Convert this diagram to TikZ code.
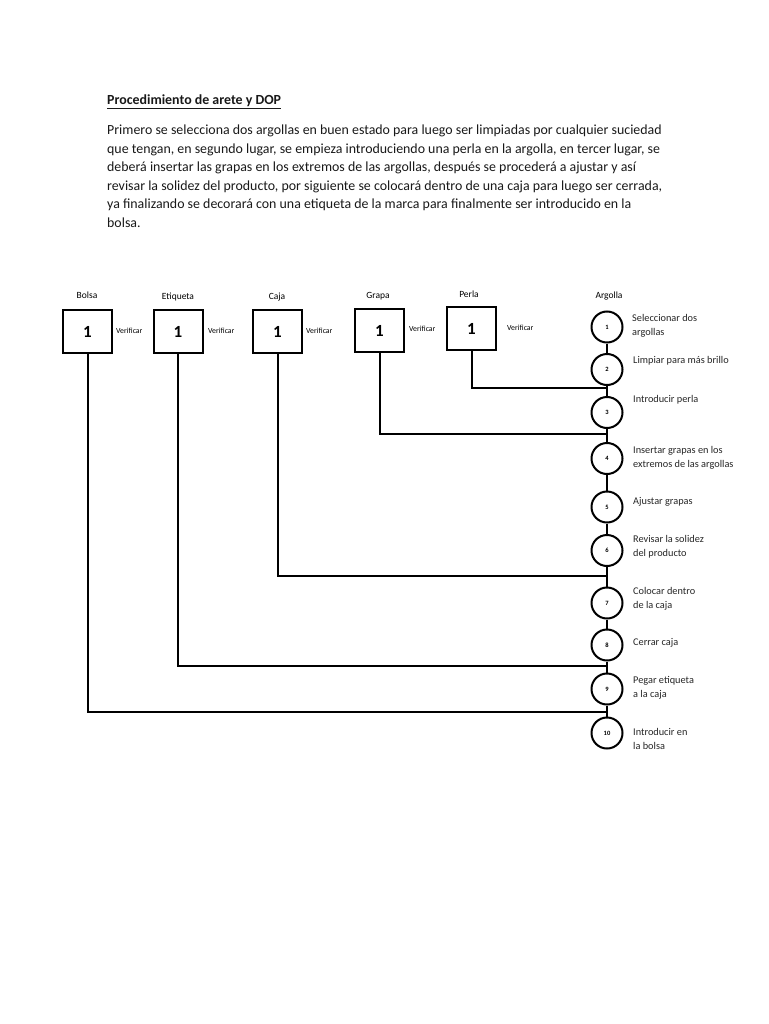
\documentclass[tikz,border=0pt]{standalone}
\usepackage{fontspec}
\setmainfont{Carlito}
\begin{document}
\begin{tikzpicture}[x=1pt,y=-1pt,
  body/.style={anchor=base west,inner sep=0,font=\fontsize{13.9}{18}\selectfont,text=black!90},
  boxlabel/.style={anchor=base,inner sep=0,font=\fontsize{9.5}{11}\selectfont},
  verif/.style={anchor=base west,inner sep=0,font=\fontsize{7.8}{9}\selectfont},
  onebox/.style={draw,line width=2pt,minimum width=49,minimum height=43,inner sep=0,font=\fontsize{17}{18}\selectfont\bfseries},
  stepc/.style={circle,draw,line width=2pt,minimum size=31,inner sep=0,font=\fontsize{6.5}{7}\selectfont\bfseries},
  steptext/.style={anchor=base west,inner sep=0,align=left,font=\fontsize{10.3}{14}\selectfont,text=black!85},
  link/.style={line width=2pt}]
\useasboundingbox (0,0) rectangle (768,1024);
\fill[white] (0,0) rectangle (768,1024);

% heading and text
\node[body,font=\fontsize{13.9}{18}\selectfont\bfseries] (title) at (107,105) {\underline{Procedimiento de arete y DOP}};
\node[body] (t1) at (107,135) {Primero se selecciona dos argollas en buen estado para luego ser limpiadas por cualquier suciedad};
\node[body] (t2) at (107,153.5) {que tengan, en segundo lugar, se empieza introduciendo una perla en la argolla, en tercer lugar, se};
\node[body] (t3) at (107,172) {deberá insertar las grapas en los extremos de las argollas, después se procederá a ajustar y así};
\node[body] (t4) at (107,190.5) {revisar la solidez del producto, por siguiente se colocará dentro de una caja para luego ser cerrada,};
\node[body] (t5) at (107,209) {ya finalizando se decorará con una etiqueta de la marca para finalmente ser introducido en la};
\node[body] (t6) at (107,228) {bolsa.};

% boxes
\node[onebox] (bolsa) at (87.5,331.5) {1};
\node[onebox] (etiq) at (178,331.5) {1};
\node[onebox] (caja) at (277.5,331.5) {1};
\node[onebox] (grapa) at (379.5,330.5) {1};
\node[onebox] (perla) at (471.5,328.5) {1};

\node[boxlabel] (lbolsa) at (87,298) {Bolsa};
\node[boxlabel] (letiq) at (178,299) {Etiqueta};
\node[boxlabel] (lcaja) at (277,299) {Caja};
\node[boxlabel] (lgrapa) at (378,298) {Grapa};
\node[boxlabel] (lperla) at (469,297) {Perla};
\node[boxlabel] (larg) at (609,298) {Argolla};

\node[verif] (v1) at (116,333) {Verificar};
\node[verif] (v2) at (208,333) {Verificar};
\node[verif] (v3) at (306,333) {Verificar};
\node[verif] (v4) at (409,331) {Verificar};
\node[verif] (v5) at (507,330) {Verificar};

% circles
\node[stepc] (c1) at (607,327) {1};
\node[stepc] (c2) at (607,369.5) {2};
\node[stepc] (c3) at (607,412.5) {3};
\node[stepc] (c4) at (607,458.5) {4};
\node[stepc] (c5) at (607,507) {5};
\node[stepc] (c6) at (607,550.5) {6};
\node[stepc] (c7) at (607,603) {7};
\node[stepc] (c8) at (607,645) {8};
\node[stepc] (c9) at (607,689) {9};
\node[stepc] (c10) at (607,733) {10};

\foreach \a/\b in {c1/c2,c2/c3,c3/c4,c4/c5,c5/c6,c6/c7,c7/c8,c8/c9,c9/c10}
  \draw[link] (\a) -- (\b);

% step texts (base = last line)
\node[steptext] (s1) at (632,335) {Seleccionar dos\\argollas};
\node[steptext] (s2) at (633,363) {Limpiar para más brillo};
\node[steptext] (s3) at (633,402) {Introducir perla};
\node[steptext] (s4) at (633,467) {Insertar grapas en los\\extremos de las argollas};
\node[steptext] (s5) at (633,504) {Ajustar grapas};
\node[steptext] (s6) at (633,556) {Revisar la solidez\\del producto};
\node[steptext] (s7) at (633,608) {Colocar dentro\\de la caja};
\node[steptext] (s8) at (633,645) {Cerrar caja};
\node[steptext] (s9) at (633,697) {Pegar etiqueta\\a la caja};
\node[steptext] (s10) at (633,749) {Introducir en\\la bolsa};

% joins on the spine
\coordinate (jp) at (607,388);
\coordinate (jg) at (607,434);
\coordinate (jc) at (607,576);
\coordinate (je) at (607,666);
\coordinate (jb) at (607,712);

\draw[link] (perla.south) |- (jp);
\draw[link] (grapa.south) |- (jg);
\draw[link] (caja.south) |- (jc);
\draw[link] (etiq.south) |- (je);
\draw[link] (bolsa.south) |- (jb);
\end{tikzpicture}
\end{document}
